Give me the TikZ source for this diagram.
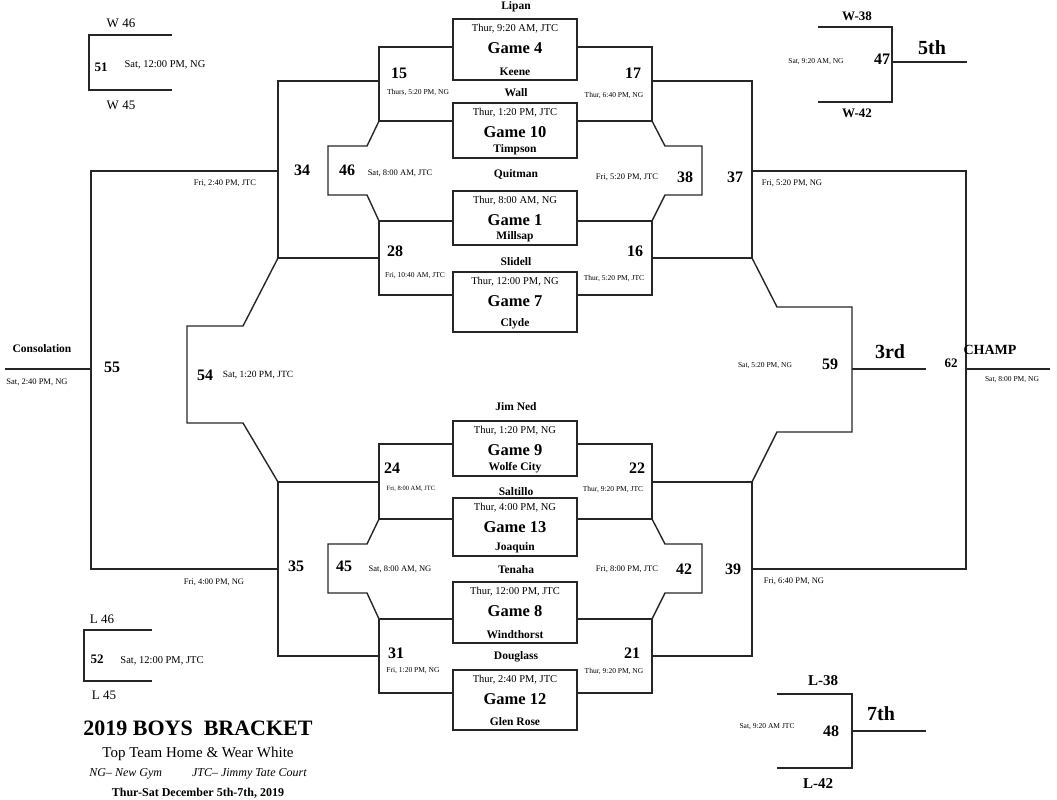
\documentclass[tikz,border=0pt]{standalone}
\usepackage{fontspec}
\setmainfont{Liberation Serif}
\tikzset{
	ln/.style={line width=1.4pt,color=black!85},
	gbox/.style={draw,line width=2pt,color=black!85,minimum width=124pt,inner sep=0pt},
	num/.style={font=\bfseries\fontsize{16}{18}\selectfont},
	bnum/.style={font=\bfseries\fontsize{20}{22}\selectfont},
	team/.style={font=\bfseries\fontsize{11.5}{13}\selectfont},
	gtime/.style={font=\fontsize{10.5}{12}\selectfont},
	sm/.style={font=\fontsize{7.5}{9}\selectfont},
	ms/.style={font=\fontsize{8.5}{10}\selectfont}
}
\newcommand{\gamebox}[6]{%
	\node[gbox,minimum height=#3pt] (#1) at (515,#2) {};
	\node[gtime] at ([yshift=-11pt]#1.north) {#4};
	\node[font=\bfseries\fontsize{16.5}{18}\selectfont] at ([yshift=-30pt]#1.north) {#5};
	\node[team] at ([yshift=9pt]#1.south) {#6};
}
\begin{document}
\begin{tikzpicture}[x=1pt,y=-1pt]
	\useasboundingbox (0,0) rectangle (1057,800);
	% game boxes
	\gamebox{g4}{49.5}{61}{Thur, 9:20 AM, JTC}{Game 4}{Keene}
	\gamebox{g10}{130.5}{55}{Thur, 1:20 PM, JTC}{Game 10}{Timpson}
	\gamebox{g1}{218}{54}{Thur, 8:00 AM, NG}{Game 1}{Millsap}
	\gamebox{g7}{302}{60}{Thur, 12:00 PM, NG}{Game 7}{Clyde}
	\gamebox{g9}{448.5}{55}{Thur, 1:20 PM, NG}{Game 9}{Wolfe City}
	\gamebox{g13}{527}{58}{Thur, 4:00 PM, NG}{Game 13}{Joaquin}
	\gamebox{g8}{612.5}{61}{Thur, 12:00 PM, JTC}{Game 8}{Windthorst}
	\gamebox{g12}{700}{60}{Thur, 2:40 PM, JTC}{Game 12}{Glen Rose}
	% team names above boxes
	\node[team] (lipan) at (516,7) {Lipan};
	\node[team] (wall) at (516,93) {Wall};
	\node[team] (quitman) at (516,174) {Quitman};
	\node[team] (slidell) at (516,262) {Slidell};
	\node[team] (jimned) at (516,407) {Jim Ned};
	\node[team] (saltillo) at (516,492) {Saltillo};
	\node[team] (tenaha) at (516,570) {Tenaha};
	\node[team] (douglass) at (516,657) {Douglass};
	% first round, top half
	\draw[ln] (g4.west|-0,47) -- (379,47) -- (379,121) -- (g10.west|-0,121);
	\draw[ln] (g4.east|-0,47) -- (652,47) -- (652,121) -- (g10.east|-0,121);
	\draw[ln] (g1.west|-0,221) -- (379,221) -- (379,295) -- (g7.west|-0,295);
	\draw[ln] (g1.east|-0,221) -- (652,221) -- (652,295) -- (g7.east|-0,295);
	\draw[ln] (379,121) -- (367,146) -- (328,146) -- (328,195) -- (367,195) -- (379,221);
	\draw[ln] (652,121) -- (665,146) -- (702,146) -- (702,195) -- (665,195) -- (652,221);
	\draw[ln] (379,81) -- (278,81) -- (278,258) -- (379,258);
	\draw[ln] (652,81) -- (752,81) -- (752,258) -- (652,258);
	% first round, bottom half
	\draw[ln] (g9.west|-0,444) -- (379,444) -- (379,519) -- (g13.west|-0,519);
	\draw[ln] (g9.east|-0,444) -- (652,444) -- (652,519) -- (g13.east|-0,519);
	\draw[ln] (g8.west|-0,619) -- (379,619) -- (379,693) -- (g12.west|-0,693);
	\draw[ln] (g8.east|-0,619) -- (652,619) -- (652,693) -- (g12.east|-0,693);
	\draw[ln] (379,519) -- (367,544) -- (328,544) -- (328,593) -- (367,593) -- (379,619);
	\draw[ln] (652,519) -- (665,544) -- (702,544) -- (702,593) -- (665,593) -- (652,619);
	\draw[ln] (379,482) -- (278,482) -- (278,656) -- (379,656);
	\draw[ln] (652,482) -- (752,482) -- (752,656) -- (652,656);
	% later rounds
	\draw[ln] (278,171) -- (91,171) -- (91,569) -- (278,569);
	\draw[ln] (91,369) -- (5,369);
	\draw[ln] (278,258) -- (243,326) -- (187,326) -- (187,423) -- (243,423) -- (278,482);
	\draw[ln] (752,171) -- (966,171) -- (966,569) -- (752,569);
	\draw[ln] (966,369) -- (1050,369);
	\draw[ln] (752,258) -- (777,307) -- (852,307) -- (852,432) -- (777,432) -- (752,482);
	\draw[ln] (852,369) -- (926,369);
	% placement games
	\draw[ln] (818,27) -- (892,27) -- (892,102) -- (818,102);
	\draw[ln] (892,62) -- (967,62);
	\draw[ln] (777,694) -- (852,694) -- (852,768) -- (777,768);
	\draw[ln] (852,731) -- (926,731);
	\draw[ln] (172,35) -- (89,35) -- (89,90) -- (172,90);
	\draw[ln] (152,630) -- (84,630) -- (84,681) -- (152,681);
	% game numbers and times
	\node[num] at (399,73) {15};
	\node[sm] at (418,92) {Thurs, 5:20 PM, NG};
	\node[num] at (633,73) {17};
	\node[sm] at (614,95) {Thur, 6:40 PM, NG};
	\node[num] at (302,170) {34};
	\node[num] at (347,170) {46};
	\node[ms] at (400,173) {Sat, 8:00 AM, JTC};
	\node[num] at (685,177) {38};
	\node[ms] at (627,177) {Fri, 5:20 PM, JTC};
	\node[num] at (735,177) {37};
	\node[num] at (395,251) {28};
	\node[sm] at (415,276) {Fri, 10:40 AM, JTC};
	\node[num] at (635,251) {16};
	\node[sm] at (614,278) {Thur, 5:20 PM, JTC};
	\node[ms] at (225,183) {Fri, 2:40 PM, JTC};
	\node[ms] at (792,183) {Fri, 5:20 PM, NG};
	\node[num] at (392,468) {24};
	\node[font=\fontsize{6.5}{8}\selectfont] at (411,489) {Fri, 8:00 AM, JTC};
	\node[num] at (637,468) {22};
	\node[sm] at (613,489) {Thur, 9:20 PM, JTC};
	\node[num] at (296,566) {35};
	\node[num] at (344,566) {45};
	\node[ms] at (400,569) {Sat, 8:00 AM, NG};
	\node[num] at (684,569) {42};
	\node[ms] at (627,569) {Fri, 8:00 PM, JTC};
	\node[num] at (733,569) {39};
	\node[num] at (396,653) {31};
	\node[sm] at (413,671) {Fri, 1:20 PM, NG};
	\node[num] at (632,653) {21};
	\node[sm] at (614,671) {Thur, 9:20 PM, NG};
	\node[ms] at (214,582) {Fri, 4:00 PM, NG};
	\node[ms] at (794,581) {Fri, 6:40 PM, NG};
	\node[num] at (112,367) {55};
	\node[team] at (42,349) {Consolation};
	\node[ms] at (37,382) {Sat, 2:40 PM, NG};
	\node[num] at (205,375) {54};
	\node[font=\fontsize{9.5}{11}\selectfont] at (258,375) {Sat, 1:20 PM, JTC};
	\node[num] at (830,364) {59};
	\node[sm] at (765,366) {Sat, 5:20 PM, NG};
	\node[bnum] at (890,352) {3rd};
	\node[font=\bfseries\fontsize{13}{15}\selectfont] at (951,363) {62};
	\node[font=\bfseries\fontsize{14}{16}\selectfont] at (990,350) {CHAMP};
	\node[sm] at (1012,380) {Sat, 8:00 PM, NG};
	\node[font=\bfseries\fontsize{13}{15}\selectfont] at (857,16) {W-38};
	\node[num] at (882,59) {47};
	\node[sm] at (816,62) {Sat, 9:20 AM, NG};
	\node[bnum] at (932,48) {5th};
	\node[font=\bfseries\fontsize{13}{15}\selectfont] at (857,113) {W-42};
	\node[font=\fontsize{13}{15}\selectfont] at (121,23) {W 46};
	\node[font=\bfseries\fontsize{13}{15}\selectfont] at (101,67) {51};
	\node[gtime] at (165,65) {Sat, 12:00 PM, NG};
	\node[font=\fontsize{13}{15}\selectfont] at (121,105) {W 45};
	\node[font=\fontsize{13}{15}\selectfont] at (102,619) {L 46};
	\node[font=\bfseries\fontsize{13}{15}\selectfont] at (97,659) {52};
	\node[gtime] at (162,661) {Sat, 12:00 PM, JTC};
	\node[font=\fontsize{13}{15}\selectfont] at (104,695) {L 45};
	\node[font=\bfseries\fontsize{15}{17}\selectfont] at (823,681) {L-38};
	\node[num] at (831,731) {48};
	\node[sm] at (767,727) {Sat, 9:20 AM JTC};
	\node[bnum] at (881,714) {7th};
	\node[font=\bfseries\fontsize{15}{17}\selectfont] at (818,784) {L-42};
	% title block
	\node[font=\bfseries\fontsize{22}{24}\selectfont] at (198,728) {2019 BOYS\ \ BRACKET};
	\node[font=\fontsize{15}{17}\selectfont] at (198,754) {Top Team Home \& Wear White};
	\node[font=\itshape\fontsize{12}{14}\selectfont] at (198,774) {NG-- New Gym\qquad\ \ JTC-- Jimmy Tate Court};
	\node[font=\bfseries\fontsize{12}{14}\selectfont] at (198,793) {Thur-Sat December 5th-7th, 2019};
\end{tikzpicture}
\end{document}
